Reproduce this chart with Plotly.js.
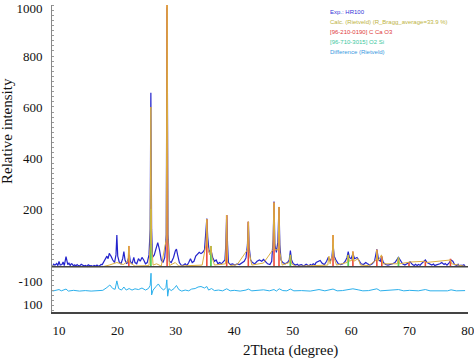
<!DOCTYPE html>
<html>
<head>
<meta charset="utf-8">
<script src="https://cdn.plot.ly/plotly-3.0.1.min.js"></script>
<style>html,body{margin:0;padding:0;background:#fff;}#chart{width:474px;height:360px;}</style>
</head>
<body>
<div id="chart"></div>
<script>
// Experimental pattern (2theta, intensity in chart units)
const expTheta = [8.9,9.1,9.3,9.6,9.8,10.0,10.2,10.5,10.7,10.9,11.2,11.5,11.7,11.9,12.1,12.3,12.5,12.7,12.9,13.1,13.3,13.5,13.8,14.0,14.3,14.5,14.8,15.0,15.3,15.5,15.8,16.0,16.3,16.5,16.8,17.0,17.2,17.4,17.6,17.8,18.0,18.2,18.4,18.6,18.8,18.9,19.2,19.5,19.75,19.9,20.05,20.3,20.6,20.9,21.1,21.3,21.6,21.9,22.05,22.2,22.5,22.8,23.0,23.3,23.6,23.9,24.2,24.5,24.8,25.1,25.4,25.6,25.72,25.85,26.0,26.3,26.6,26.9,27.2,27.5,27.8,28.1,28.35,28.5,28.65,28.9,29.2,29.6,29.9,30.1,30.3,30.6,30.9,31.2,31.6,31.9,32.2,32.5,32.8,33.1,33.4,33.7,34.0,34.3,34.6,34.9,35.15,35.3,35.45,35.7,36.0,36.3,36.6,36.9,37.2,37.5,37.8,38.1,38.4,38.55,38.7,38.85,39.0,39.3,39.7,40.1,40.5,40.9,41.3,41.7,42.0,42.25,42.4,42.55,42.8,43.1,43.5,43.9,44.3,44.7,45.0,45.3,45.7,46.1,46.4,46.65,46.8,46.95,47.2,47.45,47.65,47.8,48.0,48.3,48.7,49.1,49.4,49.6,49.8,50.1,50.5,50.8,51.0,51.3,51.5,51.8,52.0,52.3,52.5,52.8,53.0,53.3,53.5,53.8,54.0,54.4,54.7,55.0,55.4,55.8,56.1,56.4,56.7,56.9,57.1,57.4,57.8,58.2,58.6,59.0,59.3,59.5,59.7,60.0,60.3,60.6,61.0,61.3,61.7,62.1,62.5,62.8,63.2,63.6,64.0,64.4,64.7,65.0,65.2,65.5,65.9,66.3,66.7,67.1,67.5,67.8,68.1,68.4,68.8,69.2,69.6,70.1,70.5,70.8,71.0,71.3,71.5,71.8,72.0,72.4,72.7,73.0,73.4,73.8,74.1,74.3,74.6,74.8,75.2,75.5,75.9,76.1,76.4,76.8,77.1,77.4,77.7,78.1,78.3,78.5,78.8,79.0,79.3,79.5];
const expI = [-24,-16,-20,-14,-22,-6,-20,-18,-8,-22,13,-18,-12,-22,-15,-17,-24,-19,-23,-18,-22,-24,-17,-20,-24,-21,-25,-19,-23,-22,-25,-21,-24,-20,-25,-22,-17,-18,-8,-5,8,15,5,26,18,15,0,-10,20,98,15,-8,-15,5,33,0,-15,10,20,-5,-15,10,-10,-15,5,-5,10,0,-15,-10,20,120,656,120,10,20,50,68,40,0,-10,10,100,990,100,-5,-10,10,35,43,20,-10,-20,-22,-15,-22,-10,5,-10,-5,15,25,30,25,30,40,100,163,90,30,40,10,-5,0,-15,-10,-15,-5,0,60,176,60,-10,-18,-15,-20,-15,-18,-10,-5,8,60,150,50,0,-10,-15,-5,0,-5,2,-5,-15,-18,-5,80,229,60,30,70,208,60,0,-10,-15,-10,0,37,0,-15,-20,-17,-22,-19,-18,-23,-22,-17,-20,-24,-18,-21,-15,-19,-10,-5,-2,-12,-18,-5,11,-5,10,60,15,0,-15,-18,-15,-5,10,33,10,5,25,5,10,0,-15,-18,-10,-15,-20,-15,-5,42,0,-5,14,-10,-18,-20,-18,-15,-10,0,10,0,-15,-20,-15,-7,-18,-22,-17,-22,-18,-21,-15,-5,0,-10,-15,-20,-16,-22,-19,-18,-15,-10,-18,-14,-20,-10,0,-5,-18,-22,-17,-24,-20,-22,-19,-25];

// Calculated (Rietveld) pattern
const calcTheta = [8.9,17.5,18.6,19.9,21.0,21.8,21.95,22.1,23.0,25.4,25.6,25.72,25.85,26.1,26.7,27.5,28.35,28.5,28.65,28.9,29.9,30.5,34.5,35.15,35.3,35.45,35.8,36.0,36.2,36.6,38.5,38.7,38.85,39.4,40.5,42.25,42.4,42.55,43.0,45.0,46.6,46.8,46.95,47.5,47.65,47.8,48.2,49.4,49.6,49.8,50.5,56.0,56.2,56.4,56.8,56.9,57.05,57.5,59.3,59.5,59.7,60.2,60.3,60.45,61.2,61.6,63.0,64.3,64.4,64.55,65.2,65.4,67.9,68.1,68.3,69.9,70.1,72.6,72.8,77.0,77.2,79.5];
const calcI = [-26,-26,-20,-10,-18,-5,55,-10,-24,-22,60,600,60,-20,-15,-24,80,1000,80,-22,-10,-24,-20,60,160,50,20,55,10,-20,-15,176,-10,-22,-18,40,150,30,-20,-12,40,225,40,40,208,30,-20,-10,20,-15,-25,-20,15,-15,20,98,10,-20,-10,20,-5,0,33,-5,5,-20,-22,0,40,-5,20,-15,-15,10,-15,-10,-8,-5,-10,0,-15,-25];

// Reference phase markers
const calciteTheta = [21.95,28.5,35.3,38.7,42.4,46.8,47.65,56.9,60.3,64.4,65.25,69.9,72.7,77.0];
const calciteI = [55,1000,160,176,150,225,208,98,33,40,15,-10,-5,5];
const quartzTheta = [25.72,36.0,49.6,59.5,68.1];
const quartzI = [200,55,20,20,10];

// Difference curve
const diffTheta = [8.9,9.5,10.0,10.4,11.2,11.6,12.5,13.5,14.5,15.5,16.5,17.5,18.2,18.7,19.2,19.6,19.9,20.2,20.7,21.1,21.5,22.0,22.5,23.0,23.6,24.2,24.8,25.3,25.6,25.75,25.85,26.1,26.6,27.0,27.4,27.9,28.3,28.45,28.6,28.8,29.2,29.7,30.1,30.5,31.0,31.6,32.2,32.7,33.3,33.8,34.3,34.9,35.3,35.6,36.1,36.6,37.3,38.0,38.7,39.3,40.0,41.0,42.0,42.4,43.0,44.0,45.0,46.0,46.8,47.2,47.7,48.3,49.0,49.6,50.2,51.5,53.0,54.5,55.5,56.9,57.6,58.5,59.5,60.3,61.2,62.0,63.0,64.4,65.0,66.5,68.1,69.0,70.0,71.5,72.7,73.5,75.0,76.5,77.1,78.0,79.5];
const diffI = [-122,-120,-116,-121,-114,-122,-119,-122,-120,-122,-120,-119,-108,-98,-112,-115,-82,-112,-118,-106,-118,-112,-118,-113,-116,-110,-118,-112,-100,-52,-137,-118,-104,-94,-108,-118,-108,-78,-142,-112,-120,-112,-100,-116,-122,-118,-121,-114,-112,-106,-104,-110,-104,-118,-112,-120,-118,-121,-113,-121,-119,-122,-118,-114,-121,-119,-117,-121,-116,-122,-113,-120,-121,-114,-121,-120,-122,-116,-121,-114,-121,-120,-116,-113,-117,-121,-120,-113,-121,-120,-116,-121,-119,-121,-116,-121,-120,-121,-117,-121,-120];

const BASELINE = -27;
const yTickVals = [988,800,600,400,200,-86,-173];
const yTickText = ['1000','800','600','400','200','-100','100'];
const xTickVals = [10,20,30,40,50,60,70,79.97];
const xTickText = ['10','20','30','40','50','60','70','80'];

const legendItems = ['Exp.: HR100','Calc. (Rietveld) (R_Bragg_average=33.9 %)','[96-210-0190] C Ca O3','[96-710-3015] O2 Si','Difference (Rietveld)'];
const legendColors = ['#3434d8','#bdb442','#e03a3a','#3cc8a0','#3898e0'];

function sticks(th, h) {
  const x = [], y = [];
  th.forEach((t, i) => { x.push(t, t, null); y.push(BASELINE, h[i], null); });
  return {x, y};
}
const cs = sticks(calciteTheta, calciteI);
const qs = sticks(quartzTheta, quartzI);

const traces = [
  {x: diffTheta, y: diffI, mode: 'lines', line: {color: '#2cb0ec', width: 1}, hoverinfo: 'skip'},
  {x: expTheta, y: expI, mode: 'lines', line: {color: '#2424cc', width: 1.2}, hoverinfo: 'skip'},
  {x: cs.x, y: cs.y, mode: 'lines', line: {color: '#ec4a3a', width: 1.6}, hoverinfo: 'skip', connectgaps: false},
  {x: qs.x, y: qs.y, mode: 'lines', line: {color: '#58d058', width: 1.8}, hoverinfo: 'skip', connectgaps: false},
  {x: calcTheta, y: calcI, mode: 'lines', line: {color: '#dcb040', width: 1}, hoverinfo: 'skip'}
];

const serif = '"Liberation Serif", "Times New Roman", serif';
const annotations = legendItems.map((t, i) => ({
  text: t, xref: 'paper', yref: 'paper', x: (328 - 52) / 416, y: (312 - (12 + i * 10)) / 307,
  xanchor: 'left', yanchor: 'middle', showarrow: false,
  font: {family: '"Liberation Sans", Arial, sans-serif', size: 6, color: legendColors[i]}
}));
annotations.push({text: 'Relative intensity', xref: 'paper', yref: 'paper', x: (7 - 52) / 416, y: (312 - 131) / 307,
  xanchor: 'center', yanchor: 'middle', textangle: -90, showarrow: false, font: {family: serif, size: 15, color: '#111'}});
annotations.push({text: '2Theta (degree)', xref: 'paper', yref: 'paper', x: (290 - 52) / 416, y: (312 - 350) / 307,
  xanchor: 'center', yanchor: 'middle', showarrow: false, font: {family: serif, size: 15, color: '#111'}});

const layout = {
  width: 474, height: 360,
  margin: {l: 52, r: 6, t: 5, b: 48},
  paper_bgcolor: '#fff', plot_bgcolor: '#fff',
  showlegend: false,
  xaxis: {range: [8.8, 80], tickmode: 'array', tickvals: xTickVals, ticktext: xTickText, showgrid: false, zeroline: false,
    showline: true, linecolor: '#444', linewidth: 1.5, ticks: '', ticklabelstandoff: 6, ticklabeloverflow: 'allow',
    tickfont: {family: serif, size: 13, color: '#111'}},
  yaxis: {range: [-204, 1000], tickmode: 'array', tickvals: yTickVals, ticktext: yTickText, showgrid: false, zeroline: false,
    showline: true, linecolor: '#888', linewidth: 1, ticks: '', ticklabelstandoff: 6, ticklabeloverflow: 'allow',
    tickfont: {family: serif, size: 13, color: '#111'},
    minor: {tickmode: 'linear', tick0: 0, dtick: 20, ticks: 'inside', ticklen: 2, tickcolor: '#999', tickwidth: 1}},
  shapes: [{type: 'line', xref: 'x', yref: 'y', x0: 8.8, x1: 80, y0: BASELINE, y1: BASELINE,
    line: {color: '#444', width: 1.5}, layer: 'above'}],
  annotations: annotations
};

Plotly.newPlot('chart', traces, layout, {staticPlot: true, displayModeBar: false});
</script>
</body>
</html>
